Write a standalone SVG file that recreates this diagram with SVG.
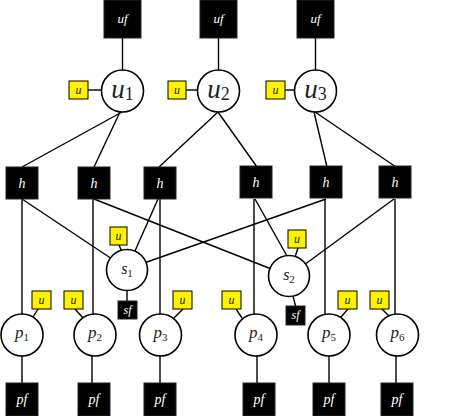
<svg xmlns="http://www.w3.org/2000/svg" width="474" height="416" viewBox="0 0 474 416">
<style>
.e{stroke:#000;stroke-width:1.4;fill:none}
.blk{fill:#000;stroke:#222;stroke-width:1}
.yel{fill:#fff200;stroke:#000;stroke-width:1}
.c{fill:#fff;stroke:#000;stroke-width:1.6}
.wt{font-family:"Liberation Serif",serif;font-style:italic;fill:#fff;text-anchor:middle}
.yt{font-family:"Liberation Serif",serif;font-style:italic;fill:#222;font-size:12px;text-anchor:middle}
.lt{font-family:"Liberation Serif",serif;fill:#222;text-anchor:middle}
.it{font-style:italic}
</style>
<rect width="474" height="416" fill="#fff"/>
<g id="connectors">
<!-- uf to u -->
<line class="e" x1="122.5" y1="38" x2="122.5" y2="70"/>
<line class="e" x1="218.5" y1="38" x2="218.5" y2="70"/>
<line class="e" x1="315.5" y1="38" x2="315.5" y2="70"/>
<!-- yellow to u -->
<line class="e" x1="88" y1="90" x2="102" y2="90"/>
<line class="e" x1="186" y1="90" x2="198" y2="90"/>
<line class="e" x1="285" y1="90" x2="295" y2="90"/>
<!-- u to h -->
<line class="e" x1="122" y1="112" x2="22" y2="167"/>
<line class="e" x1="120" y1="112" x2="94" y2="167"/>
<line class="e" x1="218" y1="112" x2="159" y2="167"/>
<line class="e" x1="218" y1="112" x2="257" y2="167"/>
<line class="e" x1="314" y1="112" x2="327" y2="167"/>
<line class="e" x1="315" y1="112" x2="396" y2="167"/>
<!-- h to s -->
<line class="e" x1="22" y1="199" x2="127" y2="269"/>
<line class="e" x1="158" y1="199" x2="127" y2="269"/>
<line class="e" x1="326" y1="199" x2="127" y2="269"/>
<line class="e" x1="94" y1="199" x2="289" y2="276"/>
<line class="e" x1="255" y1="199" x2="287" y2="256"/>
<line class="e" x1="394" y1="199" x2="289" y2="276"/>
<!-- s yellow and sf -->
<line class="e" x1="119" y1="245" x2="122" y2="252"/>
<line class="e" x1="127" y1="289" x2="127" y2="301"/>
<line class="e" x1="298" y1="248" x2="295" y2="257"/>
<line class="e" x1="293" y1="296" x2="295.5" y2="306"/>
<!-- h to p -->
<line class="e" x1="22" y1="199" x2="22" y2="314"/>
<line class="e" x1="93" y1="199" x2="93" y2="314"/>
<line class="e" x1="160" y1="199" x2="160" y2="314"/>
<line class="e" x1="254" y1="199" x2="254" y2="314"/>
<line class="e" x1="325" y1="199" x2="325" y2="314"/>
<line class="e" x1="395" y1="199" x2="395" y2="314"/>
<!-- p yellow -->
<line class="e" x1="38" y1="309" x2="33" y2="317"/>
<line class="e" x1="75" y1="309" x2="83" y2="318"/>
<line class="e" x1="183" y1="309" x2="174" y2="318"/>
<line class="e" x1="236" y1="309" x2="242" y2="318"/>
<line class="e" x1="348" y1="309" x2="341" y2="317"/>
<line class="e" x1="382" y1="309" x2="389" y2="316"/>
<!-- p to pf -->
<line class="e" x1="22" y1="356" x2="22" y2="383"/>
<line class="e" x1="92" y1="356" x2="92" y2="383"/>
<line class="e" x1="160" y1="356" x2="160" y2="383"/>
<line class="e" x1="257" y1="356" x2="257" y2="383"/>
<line class="e" x1="329" y1="356" x2="329" y2="383"/>
<line class="e" x1="396" y1="356" x2="396" y2="383"/>
</g>
<g id="uf1"><rect class="blk" x="104" y="0" width="37" height="38"/><text class="wt" x="122.5" y="23" font-size="13">uf</text></g>
<g id="uf2"><rect class="blk" x="200" y="0" width="37" height="38"/><text class="wt" x="218.5" y="23" font-size="13">uf</text></g>
<g id="uf3"><rect class="blk" x="297" y="0" width="37" height="38"/><text class="wt" x="315.5" y="23" font-size="13">uf</text></g>
<g id="u1"><circle class="c" cx="122.5" cy="91" r="21"/><text class="lt" x="122.5" y="98" font-size="27"><tspan class="it">u</tspan><tspan font-size="18" dy="2">1</tspan></text></g>
<g id="u2"><circle class="c" cx="218.5" cy="91" r="21"/><text class="lt" x="218.5" y="98" font-size="27"><tspan class="it">u</tspan><tspan font-size="18" dy="2">2</tspan></text></g>
<g id="u3"><circle class="c" cx="315.5" cy="91" r="21"/><text class="lt" x="315.5" y="98" font-size="27"><tspan class="it">u</tspan><tspan font-size="18" dy="2">3</tspan></text></g>
<g id="yu1"><rect class="yel" x="69" y="81" width="19" height="18"/><text class="yt" x="78.5" y="94">u</text></g>
<g id="yu2"><rect class="yel" x="168" y="81" width="18" height="18"/><text class="yt" x="177" y="94">u</text></g>
<g id="yu3"><rect class="yel" x="266" y="81" width="19" height="18"/><text class="yt" x="275.5" y="94">u</text></g>
<g id="h1"><rect class="blk" x="6" y="167" width="32" height="32"/><text class="wt" x="22" y="188" font-size="14">h</text></g>
<g id="h2"><rect class="blk" x="78" y="167" width="32" height="32"/><text class="wt" x="94" y="188" font-size="14">h</text></g>
<g id="h3"><rect class="blk" x="144" y="167" width="32" height="32"/><text class="wt" x="160" y="188" font-size="14">h</text></g>
<g id="h4"><rect class="blk" x="240" y="166" width="32" height="32"/><text class="wt" x="256" y="187" font-size="14">h</text></g>
<g id="h5"><rect class="blk" x="310" y="166" width="32" height="32"/><text class="wt" x="326" y="187" font-size="14">h</text></g>
<g id="h6"><rect class="blk" x="379" y="166" width="32" height="32"/><text class="wt" x="395" y="187" font-size="14">h</text></g>
<g id="s1"><circle class="c" cx="127" cy="270" r="20.5"/><text class="lt" x="127" y="274" font-size="16"><tspan class="it">s</tspan><tspan font-size="11" dy="3">1</tspan></text></g>
<g id="ys1"><rect class="yel" x="110" y="227" width="17" height="18"/><text class="yt" x="118.5" y="240">u</text></g>
<g id="sf1"><rect class="blk" x="118" y="301" width="19" height="18"/><text class="wt" x="127.5" y="314" font-size="12">sf</text></g>
<g id="s2"><circle class="c" cx="289" cy="276" r="20.5"/><text class="lt" x="289" y="280" font-size="16"><tspan class="it">s</tspan><tspan font-size="11" dy="3">2</tspan></text></g>
<g id="ys2"><rect class="yel" x="288" y="230" width="18" height="18"/><text class="yt" x="297" y="243">u</text></g>
<g id="sf2"><rect class="blk" x="286" y="306" width="19" height="19"/><text class="wt" x="295.5" y="319" font-size="12">sf</text></g>
<g id="p1"><circle class="c" cx="22" cy="335" r="21"/><text class="lt" x="22" y="338" font-size="17"><tspan class="it">p</tspan><tspan font-size="11" dy="3">1</tspan></text></g>
<g id="p2"><circle class="c" cx="95" cy="335" r="21"/><text class="lt" x="95" y="338" font-size="17"><tspan class="it">p</tspan><tspan font-size="11" dy="3">2</tspan></text></g>
<g id="p3"><circle class="c" cx="160.5" cy="335" r="21"/><text class="lt" x="160.5" y="338" font-size="17"><tspan class="it">p</tspan><tspan font-size="11" dy="3">3</tspan></text></g>
<g id="p4"><circle class="c" cx="256" cy="335" r="21"/><text class="lt" x="256" y="338" font-size="17"><tspan class="it">p</tspan><tspan font-size="11" dy="3">4</tspan></text></g>
<g id="p5"><circle class="c" cx="329" cy="335" r="21"/><text class="lt" x="329" y="338" font-size="17"><tspan class="it">p</tspan><tspan font-size="11" dy="3">5</tspan></text></g>
<g id="p6"><circle class="c" cx="397.5" cy="335" r="21"/><text class="lt" x="397.5" y="338" font-size="17"><tspan class="it">p</tspan><tspan font-size="11" dy="3">6</tspan></text></g>
<g id="yp1"><rect class="yel" x="32" y="291" width="19" height="18"/><text class="yt" x="41.5" y="304">u</text></g>
<g id="yp2"><rect class="yel" x="64" y="291" width="19" height="18"/><text class="yt" x="73.5" y="304">u</text></g>
<g id="yp3"><rect class="yel" x="173" y="291" width="19" height="18"/><text class="yt" x="182.5" y="304">u</text></g>
<g id="yp4"><rect class="yel" x="222" y="291" width="19" height="18"/><text class="yt" x="231.5" y="304">u</text></g>
<g id="yp5"><rect class="yel" x="338" y="291" width="19" height="18"/><text class="yt" x="347.5" y="304">u</text></g>
<g id="yp6"><rect class="yel" x="370" y="291" width="19" height="18"/><text class="yt" x="379.5" y="304">u</text></g>
<g id="pf1"><rect class="blk" x="6" y="383" width="32" height="33"/><text class="wt" x="22" y="404" font-size="14">pf</text></g>
<g id="pf2"><rect class="blk" x="78" y="383" width="32" height="33"/><text class="wt" x="94" y="404" font-size="14">pf</text></g>
<g id="pf3"><rect class="blk" x="144" y="383" width="32" height="33"/><text class="wt" x="160" y="404" font-size="14">pf</text></g>
<g id="pf4"><rect class="blk" x="243" y="383" width="32" height="33"/><text class="wt" x="259" y="404" font-size="14">pf</text></g>
<g id="pf5"><rect class="blk" x="313" y="383" width="32" height="33"/><text class="wt" x="329" y="404" font-size="14">pf</text></g>
<g id="pf6"><rect class="blk" x="381" y="383" width="32" height="33"/><text class="wt" x="397" y="404" font-size="14">pf</text></g>
</svg>
